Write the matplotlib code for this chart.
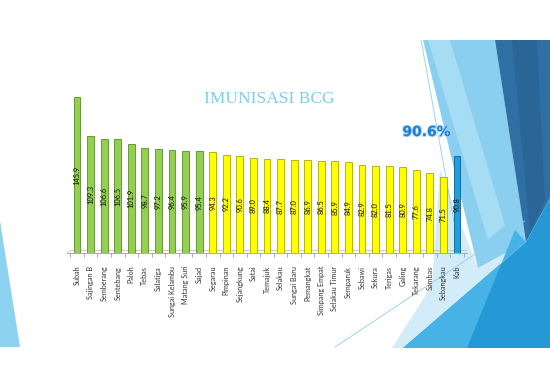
import numpy as np
import matplotlib.pyplot as plt
from matplotlib.patches import Polygon
import matplotlib.patheffects as pe

# data
puskesmas = ["Subah", "Sajingan B", "Semberang", "Sentebang", "Paloh", "Tebas",
             "Salatiga", "Sungai Kelambu", "Matang Suri", "Sajad", "Segarau",
             "Pimpinan", "Sejangkung", "Satai", "Temajuk", "Selakau", "Sungai Baru",
             "Pemangkat", "Simpang Empat", "Selakau Timur", "Semparuk", "Sebawi",
             "Sekura", "Terigas", "Galing", "Tekarang", "Sambas", "Sebangkau", "Kab"]
cakupan = [145.9, 109.3, 106.6, 106.5, 101.9, 98.7, 97.2, 96.4, 95.9, 95.4,
           94.3, 92.2, 90.6, 89.0, 88.4, 87.7, 87.0, 86.9, 86.5, 85.9,
           84.9, 82.9, 82.0, 81.5, 80.9, 77.6, 74.8, 71.5, 90.8]
kelompok = ["hijau"] * 10 + ["kuning"] * 18 + ["kab"]
target_text = "90.6%"

warna = {"hijau": "#92D050", "kuning": "#FFFF00", "kab": "#1BA1E2"}
tepi = {"hijau": "#5C8A2C", "kuning": "#A8A800", "kab": "#0B5E8C"}

fig = plt.figure(figsize=(5.5, 3.88), dpi=100)
fig.patch.set_facecolor("white")

# slide decoration (pixel coords, y down)
bg = fig.add_axes([0, 0, 1, 1], zorder=0)
bg.set_xlim(0, 550)
bg.set_ylim(388, 0)
bg.axis("off")

shapes = [
    ([(0, 221), (20, 347), (0, 347)], "#8DD2F0"),
    ([(440, 170), (478, 268), (526, 242), (403, 348), (392, 348), (432, 285)], "#D2EDF9"),
    ([(423, 40), (495, 40), (526, 242), (478, 268)], "#8ACFEF"),
    ([(428, 40), (450, 40), (505, 225), (488, 240)], "#A6DCF4"),
    ([(495, 40), (550, 40), (550, 198), (526, 242)], "#2F6FA3"),
    ([(512, 40), (537, 40), (545, 200), (530, 232)], "#2A6597"),
    ([(403, 348), (550, 348), (550, 198), (526, 242)], "#2499D6"),
    ([(403, 348), (467, 348), (515, 230), (526, 242)], "#46B2E6"),
]
for pts, c in shapes:
    bg.add_patch(Polygon(pts, closed=True, facecolor=c, edgecolor="none"))
bg.plot([421, 460], [40, 255], color="#8FCFEB", lw=0.6)
bg.plot([335, 525], [347, 221], color="#8FCFEB", lw=0.6)

# chart
ax = fig.add_axes([67 / 550, 1 - 253.3 / 388, 400 / 550, 163.3 / 388], zorder=2)
ax.patch.set_alpha(0)
x = np.arange(len(puskesmas))
bars = ax.bar(x, cakupan, width=0.5,
              color=[warna[k] for k in kelompok],
              edgecolor=[tepi[k] for k in kelompok], linewidth=0.6, zorder=3)
ax.bar_label(bars, labels=[f"{v:.1f}" for v in cakupan], label_type="center",
             rotation=90, fontsize=5.4, color="#111111", family="Lato")

ax.set_xlim(-0.74, len(puskesmas) - 0.26)
ax.set_ylim(0, 152.6)
ax.set_xticks(x)
ax.set_xticklabels(puskesmas, rotation=90, fontsize=5.2, family="Lato", color="#333333")
ax.set_xticks(np.arange(len(puskesmas) + 1) - 0.5, minor=True)
ax.tick_params(axis="x", which="major", length=0, pad=9)
ax.tick_params(axis="x", which="minor", length=3, color="#A0A0A0", width=0.6)
ax.set_yticks([])
for s in ["top", "left", "right"]:
    ax.spines[s].set_visible(False)
ax.spines["bottom"].set_color("#A0A0A0")
ax.spines["bottom"].set_linewidth(0.6)
# 3d floor back edge
ax.plot([-0.45, len(puskesmas) - 0.0], [2.8, 2.8], color="#C0C0C0", lw=0.6, zorder=1)
ax.plot([-0.74, -0.45], [0, 2.8], color="#C0C0C0", lw=0.6, zorder=1)
ax.plot([len(puskesmas) - 0.26, len(puskesmas) - 0.0], [0, 2.8], color="#C0C0C0", lw=0.6, zorder=1)

fig.text(269 / 550, 1 - 99 / 388, "IMUNISASI BCG", ha="center", va="center",
         fontsize=12.5, family="Liberation Serif", color="#7FCDEB", zorder=5)
fig.text(426.5 / 550, 1 - 132 / 388, target_text, ha="center", va="center",
         fontsize=10, fontweight="bold", color="#1F7ED6", zorder=5,
         path_effects=[pe.withStroke(linewidth=1.2, foreground="#9FD2F5")])

fig.savefig("out.png", dpi=100)
